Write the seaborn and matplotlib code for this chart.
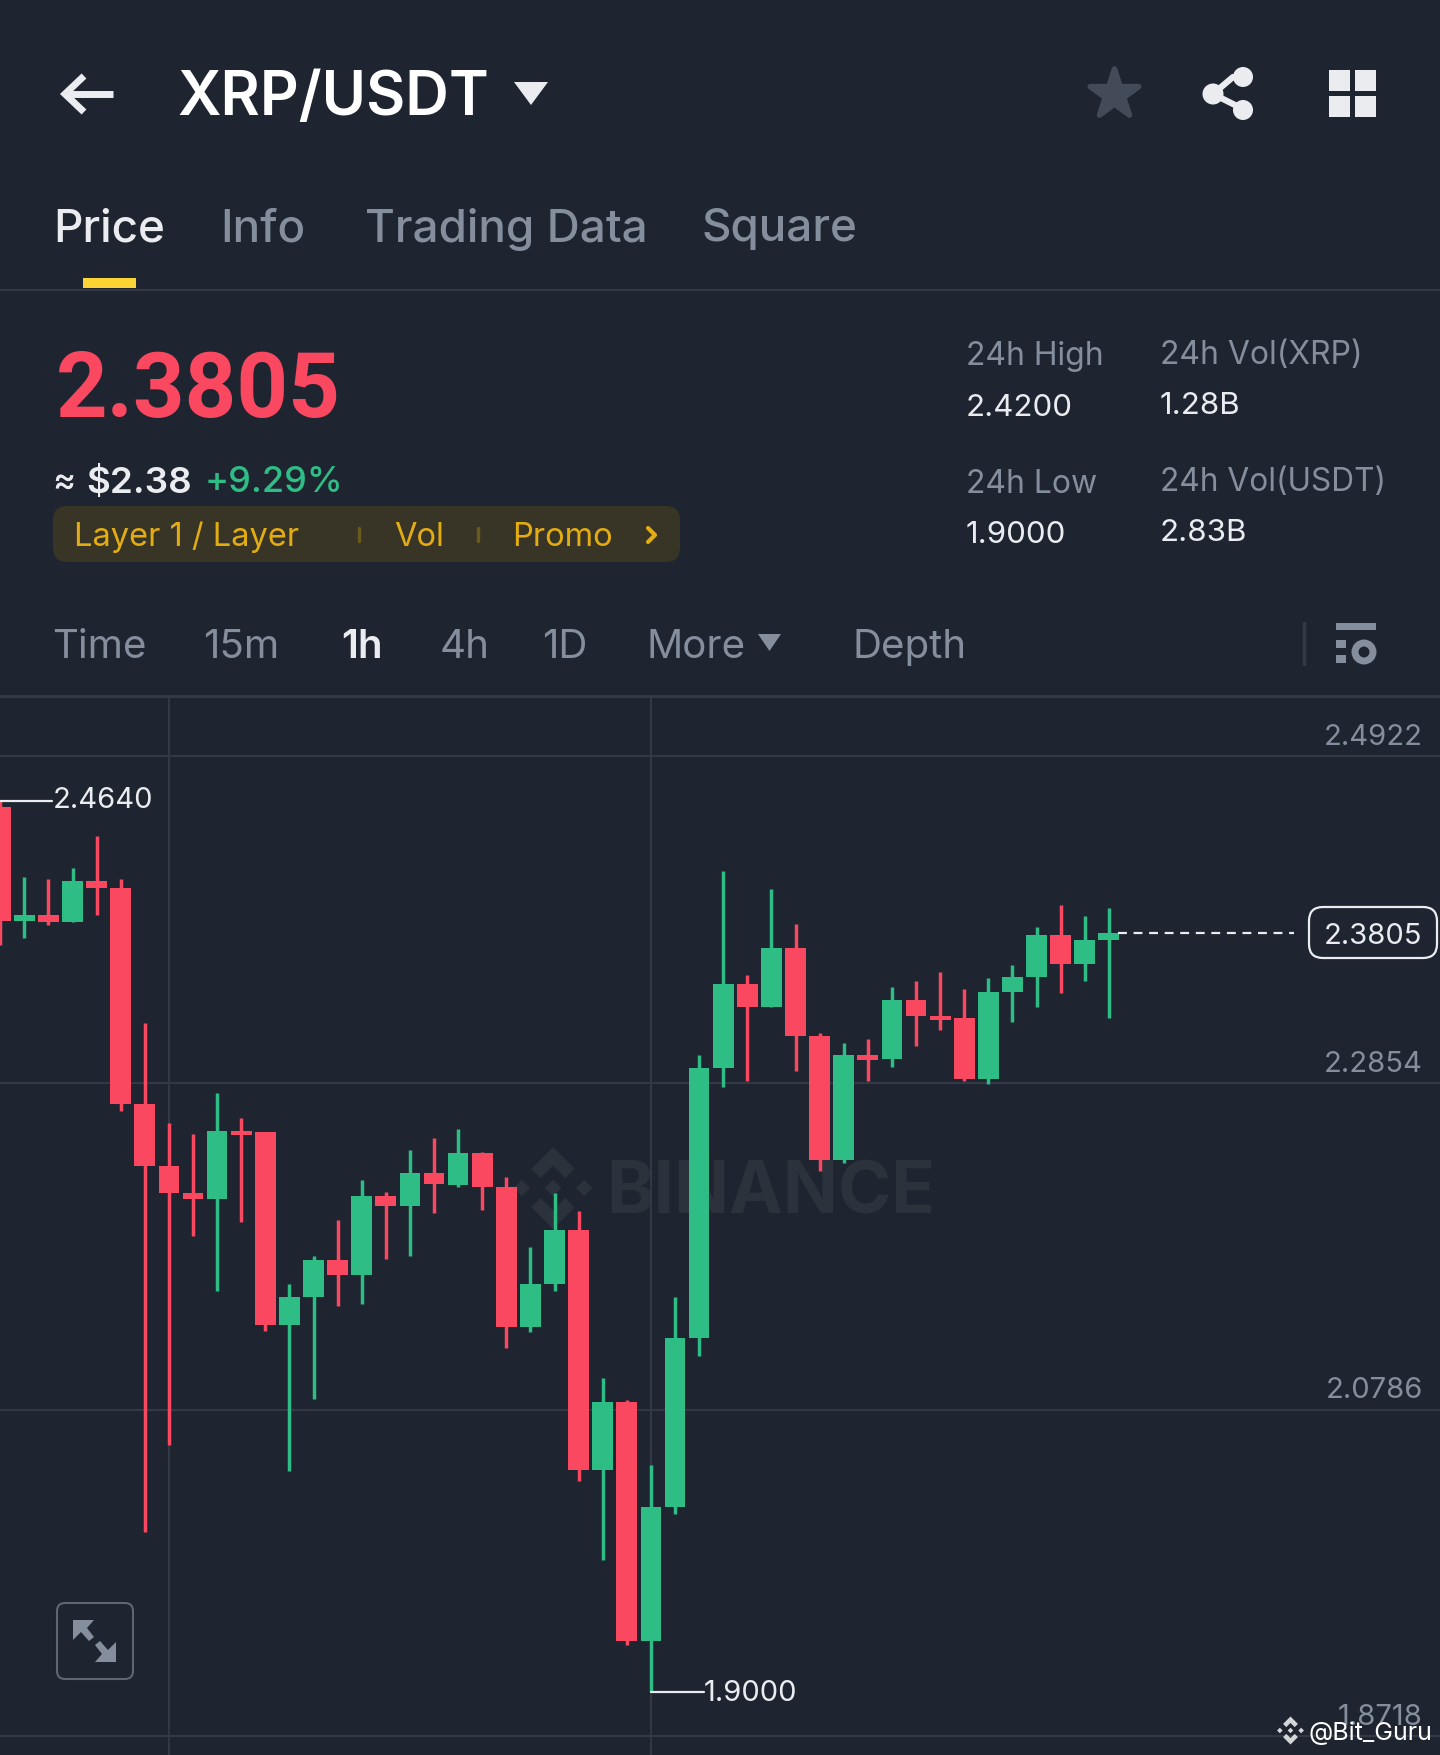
import numpy as np
import pandas as pd
import matplotlib
matplotlib.use("Agg")
import matplotlib.pyplot as plt
from matplotlib.patches import FancyBboxPatch, Polygon, Rectangle, Circle
import seaborn as sns

# --- candle data ---
OPEN = [2.4603, 2.3878, 2.3918, 2.3875, 2.4135, 2.4088, 2.2722, 2.2331, 2.2159, 2.2123,
        2.2553, 2.2544, 2.1325, 2.1501, 2.1734, 2.1639, 2.2139, 2.2078, 2.2286, 2.2209,
        2.2410, 2.2195, 2.1307, 2.1582, 2.1924, 2.0407, 2.0835, 1.9320, 2.0172, 2.1239,
        2.2948, 2.3482, 2.3338, 2.3708, 2.3154, 2.2367, 2.3034, 2.3004, 2.3380, 2.3279,
        2.3264, 2.2880, 2.3433, 2.3528, 2.3792, 2.3606, 2.3760]
HIGH = [2.4640, 2.4156, 2.4144, 2.4217, 2.4418, 2.4144, 2.3235, 2.2598, 2.2534, 2.2788,
        2.2632, 2.2544, 2.1580, 2.1761, 2.1987, 2.2241, 2.2162, 2.2431, 2.2505, 2.2566,
        2.2419, 2.2259, 2.1816, 2.2160, 2.2044, 2.0985, 2.0848, 2.0435, 2.1498, 2.3032,
        2.4197, 2.3539, 2.4081, 2.3861, 2.3169, 2.3106, 2.3133, 2.3464, 2.3499, 2.3556,
        2.3452, 2.3518, 2.3600, 2.3840, 2.3980, 2.3912, 2.3961]
LOW = [2.3729, 2.3773, 2.3852, 2.3875, 2.3918, 2.2675, 2.0012, 2.0563, 2.1886, 2.1540,
       2.1976, 2.1286, 2.0400, 2.0854, 2.1442, 2.1458, 2.1743, 2.1761, 2.2032, 2.2193,
       2.2048, 2.1175, 2.1280, 2.1538, 2.0333, 1.9835, 1.9297, 1.9000, 2.0128, 2.1127,
       2.2828, 2.2866, 2.3338, 2.2929, 2.2300, 2.2350, 2.2866, 2.2954, 2.3089, 2.3190,
       2.2866, 2.2848, 2.3243, 2.3334, 2.3426, 2.3502, 2.3268]
CLOSE = [2.3880, 2.3918, 2.3875, 2.4135, 2.4088, 2.2722, 2.2331, 2.2159, 2.2123, 2.2548,
         2.2526, 2.1325, 2.1501, 2.1732, 2.1639, 2.2137, 2.2078, 2.2286, 2.2212, 2.2410,
         2.2195, 2.1307, 2.1580, 2.1924, 2.0403, 2.0835, 1.9320, 2.0172, 2.1239, 2.2948,
         2.3482, 2.3338, 2.3708, 2.3154, 2.2367, 2.3034, 2.3000, 2.3380, 2.3279, 2.3254,
         2.2880, 2.3433, 2.3528, 2.3792, 2.3606, 2.3760, 2.3805]

Y_TICKS = [2.4922, 2.2854, 2.0786, 1.8718]
HIGH_MARK = 2.4640
LOW_MARK = 1.9000
LAST_PRICE = 2.3805

# --- colours ---
BG = "#1E2430"
GRID = "#333A46"
UP = "#2EBD85"
DOWN = "#F9485F"
GREY = "#848E9C"
WHITE = "#EAECEF"
GOLD = "#E3AC12"

sns.set_theme(style="dark")
plt.rcParams["font.family"] = ["Inter", "DejaVu Sans"]

fig = plt.figure(figsize=(14.4, 17.55), dpi=100, facecolor=BG)

# ui layer is in screen pixels, y down
ui = fig.add_axes([0, 0, 1, 1], zorder=0)
ui.set_xlim(0, 1440)
ui.set_ylim(1755, 0)
ui.axis("off")


def label(x, y, s, size, color=WHITE, weight="normal", ha="left", target=None, family=None):
    # y is the visual middle of the text, small nudge for the font box
    (target or ui).text(x, y + size * 0.1, s, fontsize=size, color=color, fontweight=weight, ha=ha,
                        va="center", transform=ui.transData, clip_on=False, zorder=20,
                        family=family or plt.rcParams["font.family"])


def bnb_logo(ax, cx, cy, r, color, zorder=1):
    # five pieces: centre, left, right diamonds and two chevrons
    t = r * 0.2
    for dx, dy in [(0, 0), (-r * 0.76, 0), (r * 0.76, 0)]:
        ax.add_patch(Polygon([(cx + dx - t, cy + dy), (cx + dx, cy + dy - t),
                              (cx + dx + t, cy + dy), (cx + dx, cy + dy + t)],
                             fc=color, ec="none", zorder=zorder, transform=ui.transData))
    for s in (-1, 1):
        ax.add_patch(Polygon([(cx - r * 0.53, cy + s * r * 0.47), (cx, cy + s * r),
                              (cx + r * 0.53, cy + s * r * 0.47), (cx + r * 0.3, cy + s * r * 0.24),
                              (cx, cy + s * r * 0.54), (cx - r * 0.3, cy + s * r * 0.24)],
                             fc=color, ec="none", zorder=zorder, transform=ui.transData))


# --- top bar ---
ui.plot([66, 113], [94, 94], color=WHITE, lw=5, solid_capstyle="butt")
ui.plot([84, 65, 84], [76, 94, 112], color=WHITE, lw=5, solid_joinstyle="miter", solid_capstyle="butt")
label(177, 95, "XRP/USDT", 43.5, "#FFFFFF", "semibold")
ui.add_patch(Polygon([(514, 82), (548, 82), (531, 105)], fc=WHITE, ec="none"))
ui.scatter([1114], [94], marker="*", s=1350, color="#434B59", linewidths=4, edgecolors="#434B59")
for (x0, y0) in [(1233, 77), (1213, 94), (1243, 109)]:
    ui.plot([1213, x0], [94, y0], color=WHITE, lw=4.5)
for (cx, cy, r) in [(1243, 77, 10), (1213, 94, 10.5), (1243, 110, 10)]:
    ui.add_patch(Circle((cx, cy), r, fc=WHITE, ec="none"))
for (x0, y0) in [(1329, 70), (1355, 70), (1329, 96), (1355, 96)]:
    ui.add_patch(Rectangle((x0, y0), 21, 21, fc=WHITE, ec="none"))

# tabs
label(53, 226, "Price", 33, WHITE, "medium")
label(220, 226, "Info", 33, GREY, "medium")
label(365, 226, "Trading Data", 33, GREY, "medium")
label(702, 226, "Square", 33, GREY, "medium")
ui.add_patch(Rectangle((83, 278), 53, 10, fc="#FCD535", ec="none"))
ui.add_patch(Rectangle((0, 289), 1440, 2, fc=GRID, ec="none"))

# price block
label(56, 385, "2.3805", 65, DOWN, "bold", family=["Roboto", "DejaVu Sans"])
label(52, 480, "≈", 25, WHITE, "medium")
label(86, 480, "$2.38", 26.5, WHITE, "semibold")
label(205, 480, "+9.29%", 26, UP, "medium")
ui.add_patch(FancyBboxPatch((53, 506), 627, 56, boxstyle="round,pad=0,rounding_size=14",
                            fc="#383426", ec="none"))
label(74, 535, "Layer 1 / Layer", 23.5, GOLD)
label(394, 535, "Vol", 23.5, GOLD)
label(512, 535, "Promo", 23.5, GOLD)
for x in (359, 478):
    ui.plot([x, x], [528, 541], color="#6B5A1E", lw=2.5)
ui.plot([648, 655, 648], [528, 535, 542], color=GOLD, lw=3)

# 24h stats
STAT_COLUMNS = [(966, [(354, "24h High", GREY, 23), (406, "2.4200", WHITE, 22.5),
                       (482, "24h Low", GREY, 23), (533, "1.9000", WHITE, 22.5)]),
                (1160, [(353, "24h Vol(XRP)", GREY, 23), (404, "1.28B", WHITE, 22.5),
                        (480, "24h Vol(USDT)", GREY, 22.8), (531, "2.83B", WHITE, 22.5)])]
for x, rows in STAT_COLUMNS:
    for y, s, c, size in rows:
        label(x, y, s, size, c)

# interval row
for x, s, c, w in [(52, "Time", GREY, "normal"), (203, "15m", GREY, "normal"),
                   (341, "1h", WHITE, "semibold"), (440, "4h", GREY, "normal"),
                   (542, "1D", GREY, "normal"), (647, "More", GREY, "normal"),
                   (852, "Depth", GREY, "normal")]:
    label(x, 645, s, 29, c, w)
ui.add_patch(Polygon([(758, 634), (781, 634), (769.5, 651)], fc=GREY, ec="none"))
ui.plot([1304, 1304], [623, 664], color=GRID, lw=2.5)
ui.add_patch(Rectangle((1336, 623), 40, 7, fc=GREY, ec="none"))
ui.add_patch(Rectangle((1336, 640), 10, 8, fc=GREY, ec="none"))
ui.add_patch(Rectangle((1336, 655), 10, 8, fc=GREY, ec="none"))
ui.add_patch(Circle((1364, 652), 9, fc=BG, ec=GREY, lw=5))
ui.add_patch(Rectangle((0, 695), 1440, 3, fc=GRID, ec="none"))

# watermark sits under the candles
bnb_logo(ui, 553, 1188, 41, "#2C323C")
label(606, 1189, "BINANCE", 52, "#2C323C", "bold")

# --- chart ---
# axes limits line the price scale up with the screen grid
ax = fig.add_axes([0, 0, 1, 1058 / 1755], zorder=1, facecolor="none")

df = pd.DataFrame({"idx": np.arange(len(OPEN)), "open": OPEN, "high": HIGH, "low": LOW, "close": CLOSE})
df["dir"] = np.where(df["close"] >= df["open"], "up", "down")
df["base"] = df[["open", "close"]].min(axis=1)
df["body"] = (df["close"] - df["open"]).abs()

wicks = df.melt(id_vars=["idx", "dir"], value_vars=["low", "high"], value_name="price")
sns.lineplot(data=wicks, x="idx", y="price", hue="dir", units="idx", estimator=None,
             palette={"up": UP, "down": DOWN}, lw=2.5, legend=False, solid_capstyle="butt", ax=ax)

for name, color in [("up", UP), ("down", DOWN)]:
    part = df[df["dir"] == name]
    sns.barplot(x=part["idx"].to_numpy(), y=part["body"].to_numpy(), bottom=part["base"].to_numpy(),
                native_scale=True, width=0.86, color=color, saturation=1, errorbar=None,
                linewidth=0, ax=ax)

ax.set_xlim(-0.0083, 59.74)
ax.set_ylim(1.8600, 2.5298)
ax.set_xlabel("")
ax.set_ylabel("")
ax.set_xticks([])
ax.set_yticks([])
ax.grid(False)
for sp in ax.spines.values():
    sp.set_visible(False)

for tick in Y_TICKS:
    ax.axhline(tick, color=GRID, lw=1.4, zorder=0)
    ax.annotate(f"{tick:.4f}", xy=(1423 / 1440, tick), xycoords=ax.get_yaxis_transform(),
                xytext=(0, 13.5), textcoords="offset points", ha="right", va="center",
                fontsize=21, color=GREY)
for x in (7.0, 26.99):
    ax.axvline(x, color=GRID, lw=1.4, zorder=0)

# high / low callouts
ax.plot([-0.0083, 2.15], [HIGH_MARK, HIGH_MARK], color=WHITE, lw=1.6)
ax.annotate(f"{HIGH_MARK:.4f}", xy=(2.17, HIGH_MARK), xytext=(0, 0), textcoords="offset points",
            va="center", fontsize=21, color=WHITE)
ax.plot([26.99, 29.2], [LOW_MARK, LOW_MARK], color=WHITE, lw=1.6)
ax.annotate(f"{LOW_MARK:.4f}", xy=(29.2, LOW_MARK), xytext=(0, -1), textcoords="offset points",
            va="center", fontsize=21, color=WHITE)

# last price
ax.plot([46.4, 53.7], [LAST_PRICE, LAST_PRICE], color=WHITE, lw=1.6, dashes=(4, 3))
ui_box = FancyBboxPatch((1320, 918), 106, 29, boxstyle="round,pad=11,rounding_size=14",
                        fc=BG, ec=WHITE, lw=1.6, transform=ui.transData, zorder=10)
ax.add_patch(ui_box)
label(1373, 934, f"{LAST_PRICE:.4f}", 21, WHITE, ha="center", target=ax)

# expand button
ax.add_patch(FancyBboxPatch((63, 1609), 64, 64, boxstyle="round,pad=6,rounding_size=8",
                            fc="none", ec="#5E6673", lw=1.5, transform=ui.transData))
for pts in ([(73, 1620), (94, 1620), (87, 1628), (94, 1637), (89, 1641), (81, 1632), (73, 1640)],
            [(116, 1662), (95, 1662), (102, 1654), (95, 1645), (100, 1641), (108, 1650), (116, 1642)]):
    ax.add_patch(Polygon(pts, fc=GREY, ec="none", transform=ui.transData))

# credit
bnb_logo(ax, 1290.5, 1730.5, 14, "#D5D6D8", zorder=20)
label(1308, 1731, "@Bit_Guru", 18, "#FFFFFF", target=ax)

fig.savefig("out.png", dpi=100, facecolor=BG)
